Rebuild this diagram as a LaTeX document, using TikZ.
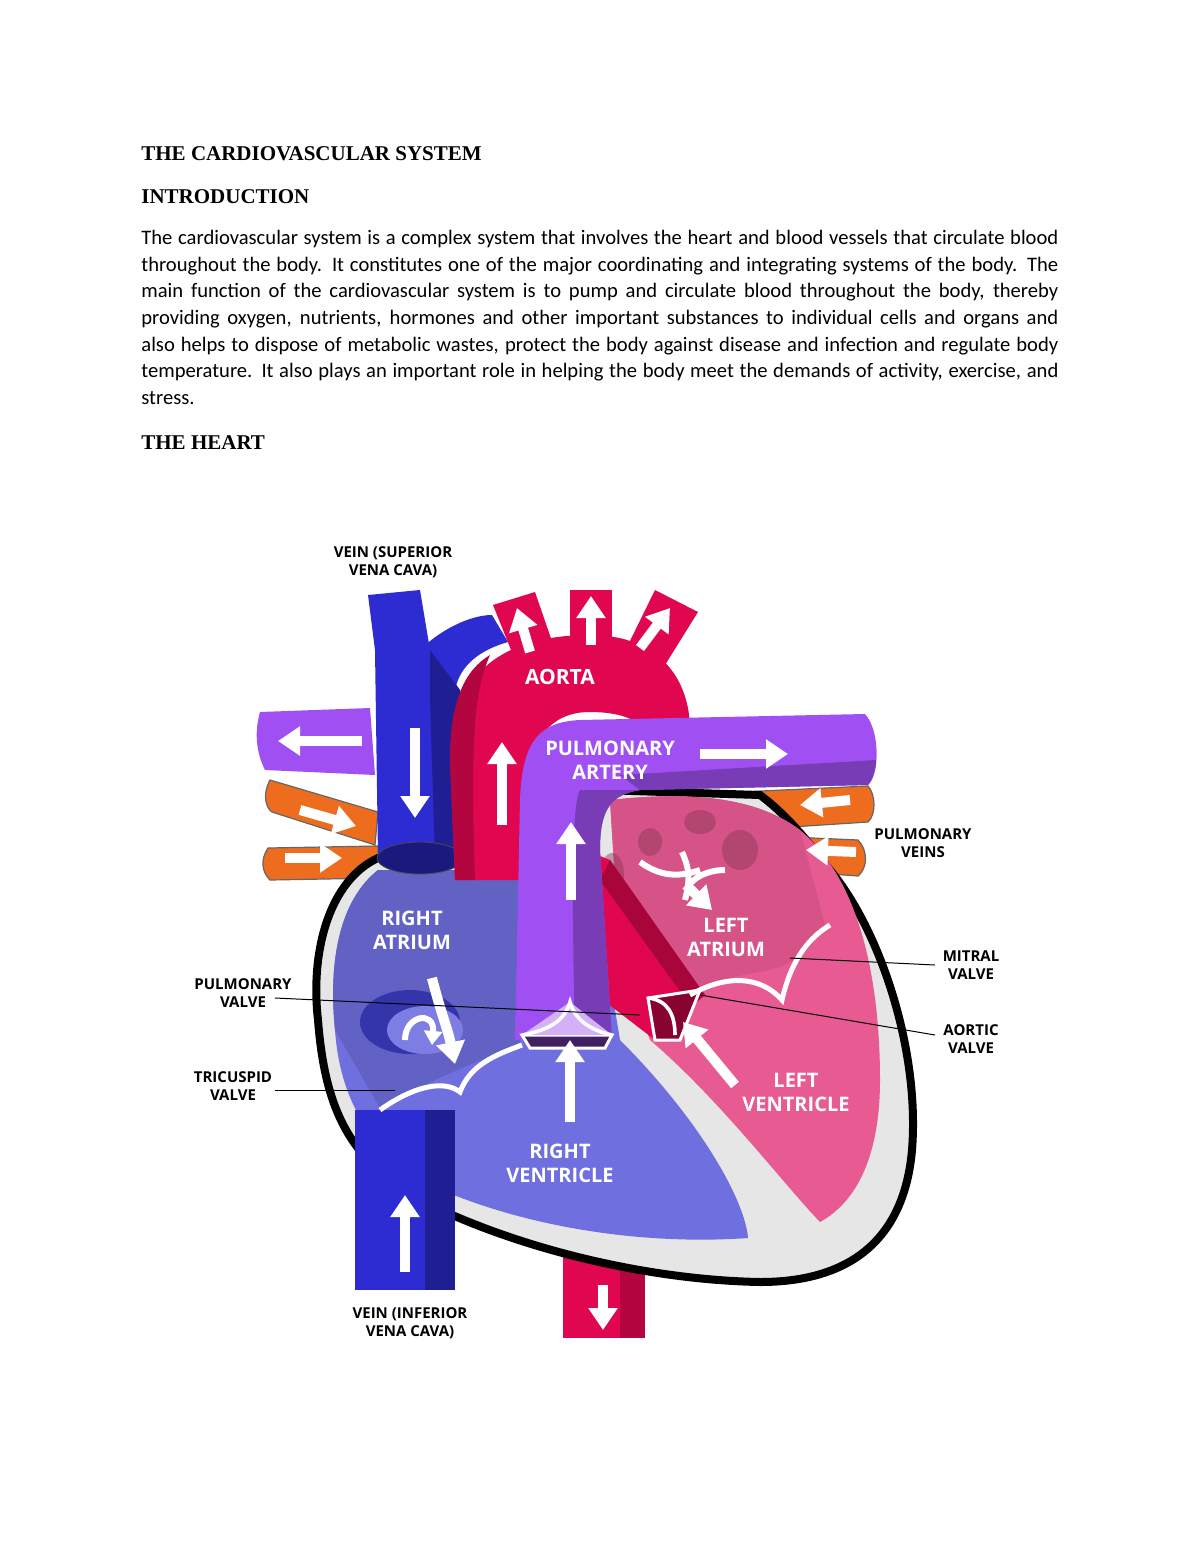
\documentclass[tikz,border=0pt]{standalone}
\usepackage{fontspec}
\setmainfont{Liberation Serif}
\newfontfamily\bodyf{Carlito}
\newfontfamily\labf{Open Sans}
\usetikzlibrary{arrows.meta}
\definecolor{vblue}{HTML}{2C2CD2}
\definecolor{chblue}{HTML}{6F6FE0}
\definecolor{chpink}{HTML}{E85A92}
\definecolor{ared}{HTML}{E0064F}
\definecolor{ppur}{HTML}{A050F2}
\definecolor{vor}{HTML}{EE6C1E}
\definecolor{hgray}{HTML}{E6E6E6}
\tikzset{
 warr/.style={draw=white,line width=5pt,-{Triangle[length=11pt,width=14pt]}},
 blab/.style={font=\labf\bfseries\fontsize{7.5}{9}\selectfont,align=center,text=black},
 wlab/.style={font=\labf\bfseries\fontsize{10}{12}\selectfont,align=center,text=white},
 head/.style={anchor=base west,inner sep=0pt,font=\bfseries\fontsize{10.5}{12}\selectfont},
 lead/.style={draw=black,line width=0.5pt},
 ves/.style={draw=black!60,line width=0.6pt},
 valv/.style={draw=white,line width=2.5pt}
}
\begin{document}
\begin{tikzpicture}[x=0.5pt,y=-0.5pt]
\useasboundingbox (0,0) rectangle (1200,1553);
% text
\node[head] (t1) at (141,160) {THE CARDIOVASCULAR SYSTEM};
\node[head] (t2) at (141,203) {INTRODUCTION};
\node[anchor=north west,inner sep=0pt,text width=458.5pt,align=justify,font=\bodyf\fontsize{10.3}{13.3}\selectfont] (body) at (141,230) {The cardiovascular system is a complex system that involves the heart and blood vessels that circulate blood\linebreak
throughout the body. It constitutes one of the major coordinating and integrating systems of the body. The\linebreak
main function of the cardiovascular system is to pump and circulate blood throughout the body, thereby\linebreak
providing oxygen, nutrients, hormones and other important substances to individual cells and organs and\linebreak
also helps to dispose of metabolic wastes, protect the body against disease and infection and regulate body\linebreak
temperature. It also plays an important role in helping the body meet the demands of activity, exercise, and\linebreak
stress.};
\node[head] (t3) at (141,449) {THE HEART};

% descending aorta (behind)
\fill[ared] (563,1200) rectangle (645,1338);
\fill[ared!80!black] (620,1200) rectangle (645,1338);
% left pulmonary veins (behind)
\filldraw[vor,ves] (270,780) .. controls (262,795) and (266,808) .. (272,812) -- (375,845) -- (378,812) -- cycle;
\filldraw[vor,ves] (268,848) .. controls (260,860) and (262,872) .. (270,880) -- (380,878) -- (378,846) -- cycle;
% right pulmonary veins
\filldraw[vor,ves] (740,792) -- (868,786) .. controls (876,795) and (876,815) .. (868,822) -- (745,830) -- cycle;
\filldraw[vor,ves] (745,835) -- (858,840) .. controls (868,850) and (868,868) .. (858,876) -- (750,868) -- cycle;
% heart outline
\filldraw[hgray,draw=black,line width=4pt] (378,858) .. controls (330,880) and (310,950) .. (318,1020) .. controls (325,1110) and (350,1160) .. (420,1200) .. controls (520,1250) and (650,1280) .. (760,1282) .. controls (860,1282) and (905,1230) .. (912,1150) .. controls (920,1050) and (880,930) .. (830,870) .. controls (800,830) and (780,810) .. (760,795) -- (600,790) -- cycle;
% blue chambers
\fill[chblue] (378,870) .. controls (340,900) and (328,960) .. (335,1030) .. controls (340,1100) and (370,1150) .. (430,1185) .. controls (530,1230) and (650,1245) .. (748,1238) .. controls (745,1200) and (700,1120) .. (620,1040) -- (600,920) -- (500,870) -- cycle;
\fill[chblue!88!black] (378,870) .. controls (340,900) and (328,960) .. (335,1030) -- (380,1108) .. controls (430,1080) and (480,1060) .. (520,1045) -- (520,870) -- cycle;
\fill[blue!55!black,opacity=0.45] (410,1022) ellipse (50 and 32);
\fill[chblue!90!white] (425,1030) ellipse (38 and 24);
% pink chambers
\fill[chpink] (610,800) .. controls (700,790) and (760,800) .. (800,830) .. controls (860,880) and (880,980) .. (880,1080) .. controls (880,1150) and (860,1200) .. (820,1222) .. controls (780,1180) and (720,1100) .. (650,1040) -- (620,960) -- cycle;
\fill[chpink!92!black] (610,800) .. controls (700,790) and (760,800) .. (800,830) -- (825,925) .. controls (790,990) and (740,960) .. (690,995) -- (620,960) -- cycle;
\fill[chpink!60!black,opacity=0.45] (700,822) ellipse (16 and 12) (740,850) ellipse (18 and 20) (650,842) ellipse (12 and 14) (612,875) ellipse (12 and 22);
% inferior vena cava
\fill[vblue] (355,1110) rectangle (455,1290);
\fill[vblue!70!black] (425,1110) rectangle (455,1290);
% aorta root strip
\fill[ared] (560,840) -- (610,860) -- (705,995) -- (655,1040) -- (590,990) -- cycle;
\fill[ared!75!black] (600,880) -- (610,860) -- (705,995) -- (690,1005) -- cycle;
% aortic valve
\filldraw[fill=ared!60!black,draw=white,line width=1.5pt] (648,998) -- (700,990) -- (680,1040) -- (655,1040) -- cycle;
\draw[valv,line width=1.8pt] (648,998) .. controls (668,1000) and (675,1015) .. (675,1035);
% superior vena cava
\fill[vblue] (420,650) .. controls (440,630) and (470,615) .. (492,615) -- (508,642) .. controls (480,650) and (460,665) .. (455,690) -- cycle;
\fill[vblue] (368,595) -- (420,590) -- (430,650) -- (460,690) -- (462,858) -- (378,858) -- (375,650) -- cycle;
\fill[vblue!70!black] (430,650) -- (460,690) -- (462,858) -- (435,858) -- (430,700) -- cycle;
\filldraw[fill=vblue!60!black,draw=black!70] (420,858) ellipse (43 and 16);
% aorta
\fill[ared] (493,605) -- (535,592) -- (555,650) -- (515,660) -- cycle;
\fill[ared] (570,590) -- (612,590) -- (612,650) -- (570,650) -- cycle;
\fill[ared] (655,590) -- (698,612) -- (665,665) -- (628,645) -- cycle;
\fill[ared] (455,880) -- (450,760) .. controls (450,660) and (520,635) .. (590,635) .. controls (660,635) and (690,680) .. (690,730) -- (640,730) .. controls (640,720) and (620,712) .. (590,712) .. controls (550,712) and (530,740) .. (525,790) -- (520,880) -- cycle;
\fill[ared!80!black] (455,880) -- (450,760) .. controls (450,700) and (465,670) .. (490,655) .. controls (475,690) and (470,730) .. (475,880) -- cycle;
% pulmonary artery
\fill[ppur] (260,712) -- (370,708) -- (375,775) -- (265,770) .. controls (255,750) and (255,730) .. (260,712);
\fill[ppur] (515,1040) -- (520,800) .. controls (522,740) and (540,722) .. (580,720) -- (865,714) .. controls (880,730) and (880,775) .. (868,785) -- (640,790) .. controls (610,795) and (600,810) .. (600,850) -- (612,1040) -- cycle;
\fill[ppur!75!black] (580,790) .. controls (575,800) and (570,830) .. (575,1040) -- (612,1040) -- (600,850) .. controls (600,810) and (610,795) .. (640,790) -- cycle;
\fill[ppur!75!black] (640,790) -- (868,785) .. controls (872,780) and (876,770) .. (876,760) -- (620,775) -- cycle;
% pulmonary valve
\filldraw[fill=ppur!40!black,draw=white,line width=1.5pt] (522,1035) -- (612,1035) -- (605,1048) -- (530,1048) -- cycle;
\fill[ppur!45!white] (570,1002) -- (612,1035) -- (522,1035) -- cycle;
\draw[valv,line width=1.8pt] (522,1035) .. controls (550,1030) and (565,1020) .. (570,1002) .. controls (575,1020) and (590,1030) .. (612,1035);
% valves
\draw[valv] (380,1110) .. controls (415,1085) and (445,1080) .. (460,1092) .. controls (470,1065) and (495,1055) .. (522,1045);
\draw[valv] (690,995) .. controls (725,975) and (760,975) .. (782,1000) .. controls (790,965) and (805,940) .. (830,925);
% arrows
\draw[warr] (415,728) -- (415,818);
\draw[warr] (502,825) -- (502,742);
\draw[warr] (530,652) -- (517,608);
\draw[warr] (591,645) -- (591,596);
\draw[warr] (640,648) -- (670,608);
\draw[warr] (700,754) -- (788,754);
\draw[warr] (362,741) -- (278,741);
\draw[warr] (571,900) -- (571,822);
\draw[warr] (850,800) -- (800,805);
\draw[warr] (856,852) -- (806,850);
\draw[warr] (300,810) -- (356,826);
\draw[warr] (285,858) -- (342,858);
\draw[warr] (432,978) .. controls (440,1010) and (448,1030) .. (455,1064);
\draw[warr,line width=3pt,-{Triangle[length=7pt,width=9pt]}] (405,1040) .. controls (405,1015) and (435,1010) .. (432,1045);
\draw[warr] (570,1122) -- (570,1040);
\draw[warr] (405,1272) -- (405,1195);
\draw[warr] (603,1285) -- (603,1330);
\draw[warr] (735,1085) -- (683,1022);
\draw[draw=white,line width=3pt] (640,862) .. controls (665,880) and (685,875) .. (700,870) (682,852) .. controls (690,870) and (690,880) .. (685,900) (725,870) .. controls (705,870) and (690,880) .. (686,890);
\draw[warr] (686,885) -- (712,910);
% labels
\node[blab] (lsvc) at (393,562) {VEIN (SUPERIOR\\VENA CAVA)};
\node[wlab,font=\labf\bfseries\fontsize{10.5}{12}\selectfont] (lao) at (560,677) {AORTA};
\node[wlab] (lpa) at (610,760) {PULMONARY\\ARTERY};
\node[wlab] (lra) at (412,930) {RIGHT\\ATRIUM};
\node[wlab] (lla) at (726,937) {LEFT\\ATRIUM};
\node[wlab] (llv) at (796,1092) {LEFT\\VENTRICLE};
\node[wlab] (lrv) at (560,1163) {RIGHT\\VENTRICLE};
\node[blab] (lpv) at (923,843) {PULMONARY\\VEINS};
\node[blab] (lmv) at (971,965) {MITRAL\\VALVE};
\node[blab] (lav) at (971,1039) {AORTIC\\VALVE};
\node[blab] (lpuv) at (243,993) {PULMONARY\\VALVE};
\node[blab] (ltv) at (233,1086) {TRICUSPID\\VALVE};
\node[blab] (livc) at (410,1323) {VEIN (INFERIOR\\VENA CAVA)};
\coordinate (cpuv) at (640,1015);
\coordinate (ctv) at (395,1090);
\coordinate (cmv) at (790,958);
\coordinate (cav) at (700,995);
\draw[lead] (275,998) -- (cpuv);
\draw[lead] (275,1090) -- (ctv);
\draw[lead] (cmv) -- (935,965);
\draw[lead] (cav) -- (935,1035);
\end{tikzpicture}
\end{document}
